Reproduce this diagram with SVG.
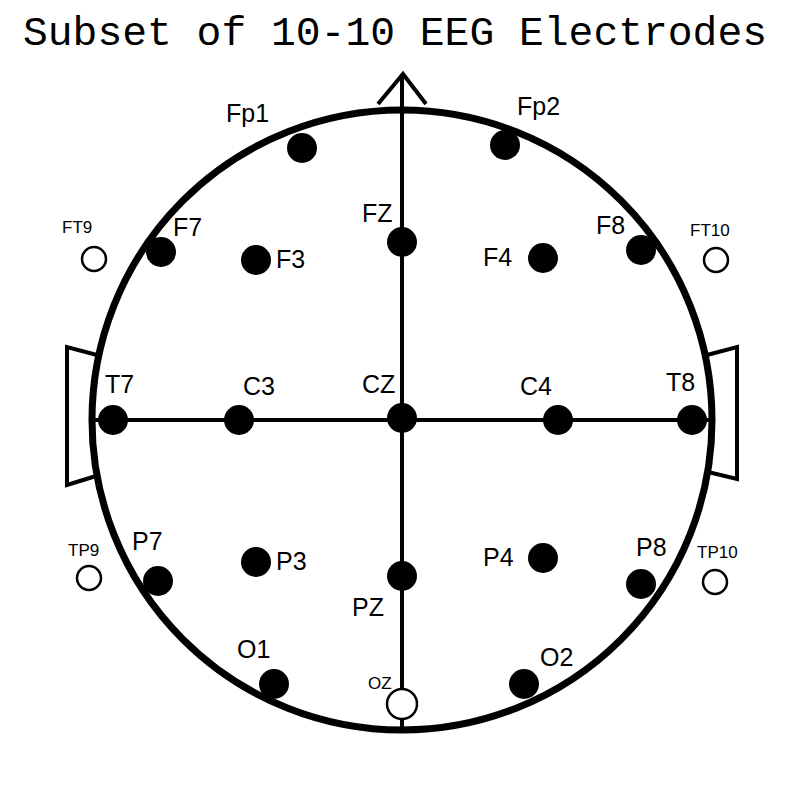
<svg xmlns="http://www.w3.org/2000/svg" width="785" height="785" viewBox="0 0 785 785">
<style>
.l{font-family:"Liberation Sans",Arial,sans-serif;font-size:25px;fill:#000}
.s{font-family:"Liberation Sans",Arial,sans-serif;font-size:17px;fill:#000}
.e{fill:#000}
.o{fill:#fff;stroke:#000;stroke-width:2.5}
.ln{stroke:#000;stroke-width:4;fill:none}
</style>
<rect width="785" height="785" fill="#fff"/>
<text x="395" y="45" text-anchor="middle" font-family="Liberation Mono,monospace" font-size="40" textLength="744" lengthAdjust="spacingAndGlyphs">Subset of 10-10 EEG Electrodes</text>
<g id="head">
<polyline class="ln" points="97,355 67,347 67,485 96,476" stroke-width="7"/>
<polyline class="ln" points="707,355 737,347 737,479 708,472" stroke-width="7"/>
<circle cx="402" cy="420" r="310" fill="none" stroke="#000" stroke-width="7"/>
</g>
<g id="connectors">
<polyline class="ln" points="378,104 403,74 426,104"/>
<line class="ln" x1="402" y1="74" x2="402" y2="733"/>
<line class="ln" x1="95" y1="420" x2="710" y2="420"/>
</g>
<g id="Fp1"><circle class="e" cx="302" cy="148" r="15"/><text class="l" x="226" y="122">Fp1</text></g>
<g id="Fp2"><circle class="e" cx="505" cy="145" r="15"/><text class="l" x="517" y="115">Fp2</text></g>
<g id="F7"><circle class="e" cx="161" cy="252" r="15"/><text class="l" x="173" y="236">F7</text></g>
<g id="F3"><circle class="e" cx="256" cy="260" r="15"/><text class="l" x="276" y="268">F3</text></g>
<g id="FZ"><circle class="e" cx="402" cy="242" r="15"/><text class="l" x="362" y="222">FZ</text></g>
<g id="F4"><circle class="e" cx="543" cy="258" r="15"/><text class="l" x="483" y="266">F4</text></g>
<g id="F8"><circle class="e" cx="641" cy="250" r="15"/><text class="l" x="596" y="234">F8</text></g>
<g id="T7"><circle class="e" cx="113" cy="420" r="15"/><text class="l" x="105" y="393">T7</text></g>
<g id="C3"><circle class="e" cx="239" cy="420" r="15"/><text class="l" x="243" y="395">C3</text></g>
<g id="CZ"><circle class="e" cx="402" cy="418" r="15"/><text class="l" x="362" y="393">CZ</text></g>
<g id="C4"><circle class="e" cx="558" cy="420" r="15"/><text class="l" x="520" y="395">C4</text></g>
<g id="T8"><circle class="e" cx="692" cy="420" r="15"/><text class="l" x="666" y="391">T8</text></g>
<g id="P7"><circle class="e" cx="158" cy="581" r="15"/><text class="l" x="132" y="550">P7</text></g>
<g id="P3"><circle class="e" cx="256" cy="562" r="15"/><text class="l" x="276" y="570">P3</text></g>
<g id="PZ"><circle class="e" cx="402" cy="576" r="15"/><text class="l" x="352" y="616">PZ</text></g>
<g id="P4"><circle class="e" cx="543" cy="558" r="15"/><text class="l" x="483" y="566">P4</text></g>
<g id="P8"><circle class="e" cx="641" cy="584" r="15"/><text class="l" x="636" y="556">P8</text></g>
<g id="O1"><circle class="e" cx="274" cy="684" r="15"/><text class="l" x="237" y="658">O1</text></g>
<g id="O2"><circle class="e" cx="524" cy="684" r="15"/><text class="l" x="540" y="666">O2</text></g>
<g id="OZ"><circle class="o" cx="402" cy="704" r="15" stroke-width="3"/><text class="s" x="368" y="689">OZ</text></g>
<g id="FT9"><circle class="o" cx="94" cy="259" r="12"/><text class="s" x="62" y="233">FT9</text></g>
<g id="FT10"><circle class="o" cx="716" cy="260" r="12"/><text class="s" x="690" y="236">FT10</text></g>
<g id="TP9"><circle class="o" cx="89" cy="578" r="12"/><text class="s" x="68" y="556">TP9</text></g>
<g id="TP10"><circle class="o" cx="715" cy="582" r="12"/><text class="s" x="697" y="558">TP10</text></g>
</svg>
